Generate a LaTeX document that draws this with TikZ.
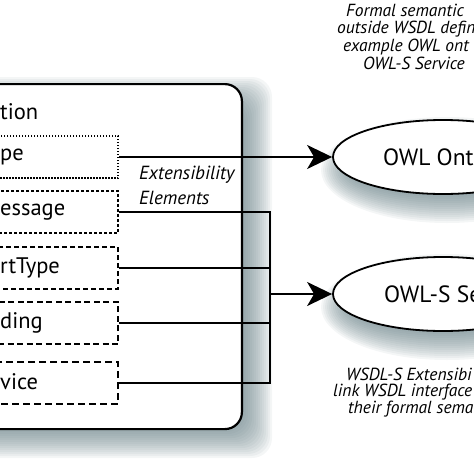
\documentclass[tikz,border=0pt]{standalone}
\usepackage{fontspec}
\setmainfont{PT Sans}
\usetikzlibrary{arrows.meta,shapes.geometric}
\definecolor{shadowc}{RGB}{100,125,131}
\begin{document}
\begin{tikzpicture}[x=1pt,y=-1pt,
  lbl/.style={font=\fontsize{22.5}{26}\selectfont, inner sep=0pt, anchor=west},
  ovallbl/.style={font=\fontsize{23.5}{28}\selectfont, inner sep=0pt, anchor=west},
  note/.style={font=\itshape, inner sep=0pt, anchor=north west, align=left},
  extnote/.style={font=\fontsize{19}{23}\selectfont\itshape, inner sep=0pt, anchor=west},
  bigbox/.style={draw, line width=2.2pt, fill=white, rounded corners=17pt},
  elembox/.style={draw, line width=1.6pt, minimum width=139pt, minimum height=42pt, anchor=east, inner sep=0pt},
  conn/.style={draw, line width=1.8pt},
  arr/.style={conn, -{Stealth[length=25pt,width=24pt,inset=7pt]}},
  oval/.style={ellipse, draw, line width=1.8pt, fill=white, minimum width=220pt, minimum height=74pt, inner sep=0pt}]
\useasboundingbox (0,0) rectangle (474,474);
\clip (0,0) rectangle (474,474);
% shadows
\foreach \i in {-14,-12,...,18}
  \fill[shadowc, opacity=0.07, rounded corners=20pt] (-40+11-\i, 83+12-\i) rectangle (243+11+\i, 428+12+\i);
\foreach \i in {-12,-10,...,16}{
  \fill[shadowc, opacity=0.07] (447,170) ellipse [x radius=110pt+\i pt, y radius=37pt+\i pt];
  \fill[shadowc, opacity=0.07] (447,307) ellipse [x radius=110pt+\i pt, y radius=37pt+\i pt];
}
% main box
\node[bigbox, minimum width=283pt, minimum height=345pt, anchor=north east] (wsdl) at (243,83) {};
\node[lbl] (title) at (0,112) {tion};
% element boxes
\node[elembox, dash pattern=on 1.4pt off 1.6pt] (type) at (119,157) {};
\node[elembox, dash pattern=on 3pt off 2pt] (message) at (119,212) {};
\node[elembox, dash pattern=on 5pt off 3pt] (porttype) at (119,268) {};
\node[elembox, dash pattern=on 6pt off 3.5pt] (binding) at (119,323) {};
\node[elembox, dash pattern=on 7pt off 4pt] (service) at (119,383) {};
\node[lbl] (ltype) at (0,157) {pe};
\node[lbl] (lmessage) at (0,212) {essage};
\node[lbl] (lporttype) at (0,268) {rtType};
\node[lbl] (lbinding) at (0,323) {ding};
\node[lbl] (lservice) at (0,382) {vice};
% ellipses
\node[oval] (owl) at (443,157) {};
\node[oval] (owls) at (443,294) {};
\node[ovallbl] (lowl) at (383,157) {OWL Ont};
\node[ovallbl] (lowls) at (384,294) {OWL-S Se};
% extensibility label
\node[extnote] (ext1) at (139,175) {Extensibility};
\node[extnote] (ext2) at (139,198) {Elements};
% connectors
\coordinate (jt) at (270,212);
\draw[arr] (type.east) -- (type.east -| owl.west);
\draw[conn] (message.east) -- (message.east -| jt) -- (service.east -| jt) -- (service.east);
\draw[conn] (porttype.east) -- (porttype.east -| jt);
\draw[conn] (binding.east) -- (binding.east -| jt);
\draw[arr] (jt |- owls.west) -- (owls.west);
% notes
\node[note, font=\fontsize{17.5}{17.7}\selectfont\itshape] (topnote) at (337,3.5)
  {\hspace*{9pt}Formal semantic\\outside WSDL defin\\\hspace*{6pt}example OWL ont\\\hspace*{26pt}OWL-S Service};
\node[note, font=\fontsize{17.5}{16}\selectfont\itshape] (botnote) at (333,368)
  {\hspace*{13pt}WSDL-S Extensibi\\link WSDL interface\\\hspace*{15pt}their formal sema};
\end{tikzpicture}
\end{document}
